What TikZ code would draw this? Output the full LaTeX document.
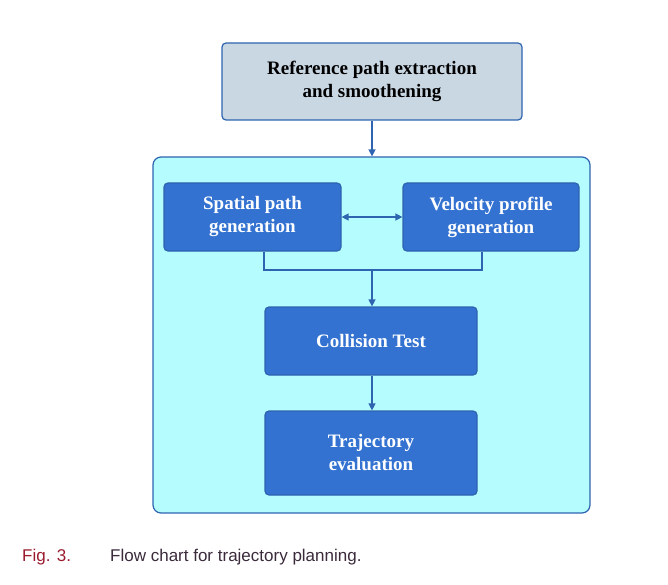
\documentclass[tikz,border=0pt]{standalone}
\usepackage{fontspec}
\setmainfont{Liberation Serif}
\newfontfamily\capfont{Liberation Sans}
\usetikzlibrary{arrows.meta}
\definecolor{bord}{HTML}{2E64B0}
\definecolor{topfill}{HTML}{C9D7E3}
\definecolor{bigfill}{HTML}{B4FCFD}
\definecolor{bluefill}{HTML}{3372D0}
\definecolor{capred}{HTML}{9A1B2E}
\definecolor{captext}{HTML}{3A2A3A}
\begin{document}
\begin{tikzpicture}[x=1pt,y=-1pt,
  box/.style={draw=bord,line width=1.2pt,rounded corners=4pt,fill=bluefill,text=white,font=\fontsize{19}{23}\selectfont\bfseries,align=center,inner sep=0},
  arr/.style={draw=bord,line width=1.3pt,-{Triangle[length=7pt,width=7pt]}},
  ln/.style={draw=bord,line width=1.3pt}]
\useasboundingbox (0,0) rectangle (668,585);
\node[box,fill=topfill,text=black,minimum width=300,minimum height=77] (top) at (372,81.5) {Reference path extraction\\and smoothening};
\node[draw=bord,line width=1.2pt,rounded corners=8pt,fill=bigfill,minimum width=437,minimum height=356,inner sep=0] (big) at (371.5,335) {};
\node[box,minimum width=177,minimum height=68] (sp) at (252.5,217) {Spatial path\\generation};
\node[box,minimum width=176,minimum height=68] (ve) at (491,217) {Velocity profile\\generation};
\node[box,minimum width=212,minimum height=68] (co) at (371,341) {Collision Test};
\node[box,minimum width=212,minimum height=84] (tr) at (371,453) {Trajectory\\evaluation};
\coordinate (j) at (372,270);
\draw[arr] (top.south) -- (big.north -| top.south);
\draw[ln,{Triangle[length=7pt,width=7pt]}-{Triangle[length=7pt,width=7pt]}] (sp.east) -- (ve.east -| ve.west);
\draw[ln] (sp.south -| 264,0) |- (j) -| (ve.south -| 482,0);
\draw[arr] (j) -- (co.north -| j);
\draw[arr] (co.south -| j) -- (tr.north -| j);
\node[anchor=west,font=\capfont\fontsize{17}{20}\selectfont,text=capred,inner sep=0] (fig) at (22,557) {Fig. 3.};
\node[anchor=west,font=\capfont\fontsize{17}{20}\selectfont,text=captext,inner sep=0] (cap) at (110,557) {Flow chart for trajectory planning.};
\end{tikzpicture}
\end{document}
